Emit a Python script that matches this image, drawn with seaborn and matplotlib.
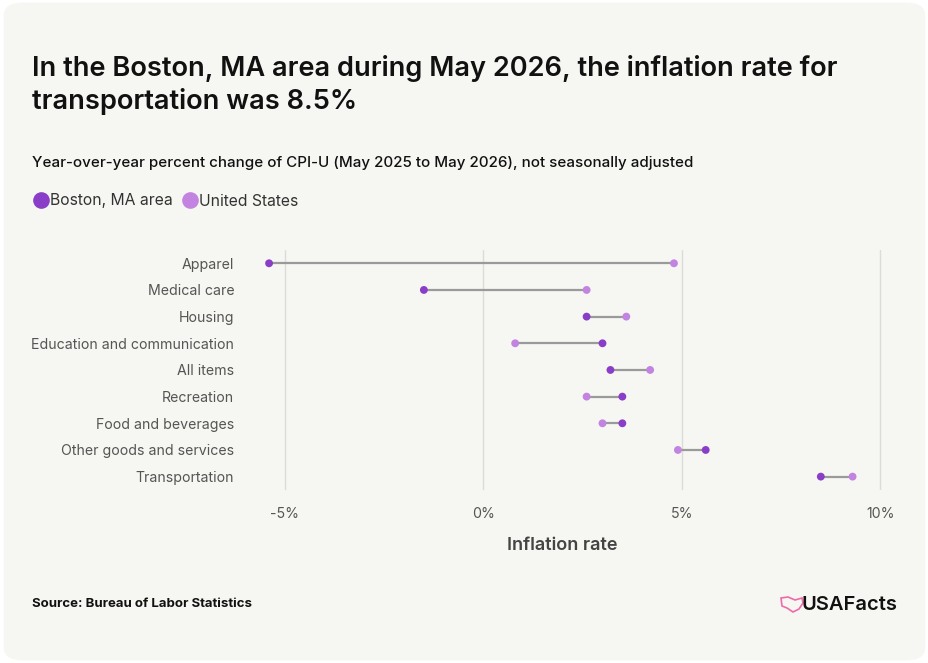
import matplotlib
matplotlib.use("Agg")
import matplotlib.pyplot as plt
import seaborn as sns
import pandas as pd
import numpy as np
from matplotlib.lines import Line2D
from matplotlib.patches import FancyBboxPatch, Polygon

categories = ["Apparel", "Medical care", "Housing", "Education and communication",
              "All items", "Recreation", "Food and beverages",
              "Other goods and services", "Transportation"]
boston = [-5.4, -1.5, 2.6, 3.0, 3.2, 3.5, 3.5, 5.6, 8.5]
united_states = [4.8, 2.6, 3.6, 0.8, 4.2, 2.6, 3.0, 4.9, 9.3]
x_ticks = [-5, 0, 5, 10]
x_tick_labels = ["-5%", "0%", "5%", "10%"]
series_names = ["Boston, MA area", "United States"]

BG = "#f6f6f2"
C_BOS = "#8a3ec8"
C_US = "#c383e0"

sns.set_theme(style="white")
plt.rcParams["font.family"] = ["Inter", "DejaVu Sans"]

fig = plt.figure(figsize=(9.29, 6.63), dpi=100)
fig.patch.set_facecolor("white")
card = FancyBboxPatch((0.004, 0.004), 0.992, 0.992, boxstyle="round,pad=0,rounding_size=0.02",
                      transform=fig.transFigure, facecolor=BG, edgecolor="none", zorder=-10)
fig.add_artist(card)

ax = fig.add_axes([0.264, 0.261, 0.705, 0.362])
ax.set_facecolor(BG)

df = pd.DataFrame({
    "category": categories * 2,
    "value": boston + united_states,
    "series": [series_names[0]] * len(categories) + [series_names[1]] * len(categories),
})
ypos = {c: i for i, c in enumerate(categories)}
df["y"] = df["category"].map(ypos)

ax.hlines([ypos[c] for c in categories], boston, united_states, color="#9a9a9a", lw=1.6, zorder=2)
sns.scatterplot(data=df, x="value", y="y", hue="series", palette=[C_BOS, C_US],
                s=32, edgecolor="none", legend=False, ax=ax, zorder=3)

ax.set_xlim(-6, 10.5)
ax.set_ylim(len(categories) - 0.5, -0.5)
ax.set_yticks(range(len(categories)))
ax.set_yticklabels(categories)
ax.set_xticks(x_ticks)
ax.set_xticklabels(x_tick_labels)
ax.grid(axis="x", color="#dcdcd8", lw=1)
ax.grid(axis="y", visible=False)
for s in ax.spines.values():
    s.set_visible(False)
ax.tick_params(axis="both", length=0, labelsize=10.2, labelcolor="#555555")
ax.tick_params(axis="y", pad=8)
ax.tick_params(axis="x", pad=12)
ax.set_ylabel("")
ax.set_xlabel("Inflation rate", fontsize=13, fontweight="semibold", color="#444444", labelpad=11)
ax.xaxis.set_label_coords(0.484, -0.194)

fig.text(0.034, 1 - 85 / 663, "In the Boston, MA area during May 2026, the inflation rate for\ntransportation was 8.5%",
         fontsize=19.6, fontweight="semibold", color="#111111", va="center", linespacing=1.25)
fig.text(0.034, 1 - 163 / 663, "Year-over-year percent change of CPI-U (May 2025 to May 2026), not seasonally adjusted",
         fontsize=10.9, fontweight="medium", color="#111111", va="center")

handles = [Line2D([], [], marker="o", ls="", markersize=12, markerfacecolor=c, markeredgecolor="none")
           for c in (C_BOS, C_US)]
fig.legend(handles, series_names, loc="center left", bbox_to_anchor=(0.028, 1 - 201 / 663),
           ncol=2, frameon=False, fontsize=11.3, handletextpad=0.1, columnspacing=0.7,
           handlelength=0.9, borderpad=0, labelcolor="#333333")

fig.text(0.034, 1 - 604 / 663, "Source: Bureau of Labor Statistics", fontsize=9.5,
         fontweight="bold", color="#111111", va="center")
fig.text(0.966, 1 - 605 / 663, "USAFacts", fontsize=14.5, fontweight="semibold",
         color="#111111", va="center", ha="right")
pts = np.array([[781, 598], [788, 597], [795, 600], [802, 598], [803, 603], [799, 609],
                [793, 612], [787, 608], [782, 606]], dtype=float)
pts[:, 0] /= 929
pts[:, 1] = 1 - pts[:, 1] / 663
fig.add_artist(Polygon(pts, closed=True, fill=False, edgecolor="#f06aa8", lw=1.2,
                       transform=fig.transFigure))

fig.savefig("out.png", dpi=100, facecolor=fig.get_facecolor())
